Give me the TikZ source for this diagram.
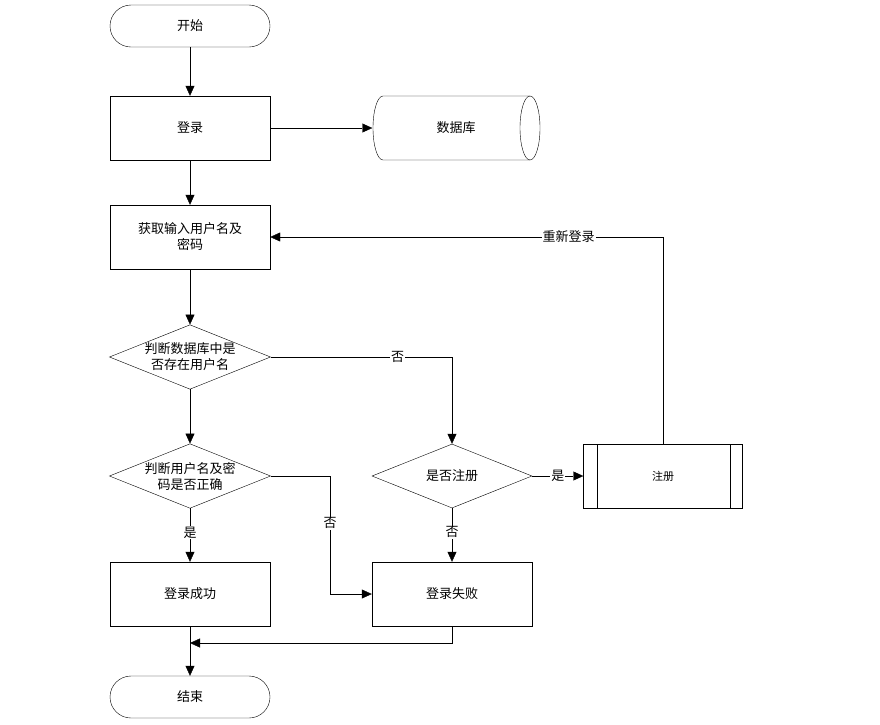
\documentclass[tikz,border=0pt]{standalone}
\usepackage{fontspec}
\newfontfamily\cjk{Noto Sans CJK SC}
\usetikzlibrary{shapes.geometric,arrows.meta}
\begin{document}
\begin{tikzpicture}[x=1pt,y=-1pt,
  every node/.style={font=\cjk\fontsize{13}{16}\selectfont},
  base/.style={draw,thin,align=center,inner sep=1pt},
  term/.style={base,rounded corners=21pt,minimum width=160pt,minimum height=42pt},
  box/.style={base,minimum width=160pt,minimum height=64pt},
  dia/.style={base,diamond,aspect=2.5,minimum width=160pt,minimum height=64pt,inner sep=0pt},
  lab/.style={fill=white,inner sep=1pt},
  arr/.style={draw,thin,-{Triangle[length=10pt,width=9pt]}}]
\useasboundingbox (0,0) rectangle (880,724);
\node[term] (s) at (190,26) {开始};
\node[box] (l) at (190,128) {登录};
\node[minimum width=167pt,minimum height=64pt,inner sep=0pt] (db) at (456,128) {数据库};
\draw[thin] (383,96) arc[start angle=270,end angle=90,x radius=10,y radius=32]
  -- (530,160) (383,96) -- (530,96);
\draw[thin] (530,128) ellipse[x radius=10,y radius=32];
\node[box] (g) at (190,237) {获取输入用户名及\\密码};
\node[dia] (d1) at (190,357) {判断数据库中是\\否存在用户名};
\node[dia] (d2) at (190,476) {判断用户名及密\\码是否正确};
\node[box] (ok) at (190,594) {登录成功};
\node[term] (e) at (190,697) {结束};
\node[dia] (d3) at (452,476) {是否注册};
\node[box,minimum width=159pt,font=\cjk\fontsize{11}{13}\selectfont] (r) at (663,476) {注册};
\draw[thin] (597,444) -- (597,508) (730,444) -- (730,508);
\node[box] (f) at (452,594) {登录失败};
\coordinate (c1) at (452,357);
\coordinate (c2) at (330,476);
\coordinate (c3) at (330,594);
\coordinate (c4) at (663,237);
\coordinate (c5) at (452,643);
\coordinate (c6) at (190,643);
\path[arr] (s) -- (l);
\path[arr] (l) -- (db.west);
\path[arr] (l) -- (g);
\path[arr] (g) -- (d1);
\path[arr] (d1) -- (d2);
\path[arr] (d2) -- node[lab,pos=0.45]{是} (ok);
\path[arr] (ok) -- (e);
\path[arr] (d1.east) -- node[lab,pos=0.7]{否} (c1) -- (d3.north);
\path[arr] (d2.east) -- (c2) -- node[lab,pos=0.4]{否} (c3) -- (f.west);
\path[arr] (d3) -- node[lab]{是} (r);
\path[arr] (d3) -- node[lab,pos=0.45]{否} (f);
\path[arr] (r.north) -- (c4) -- node[lab,pos=0.24]{重新登录} (g.east);
\path[arr] (f.south) -- (c5) -- (c6);
\end{tikzpicture}
\end{document}
